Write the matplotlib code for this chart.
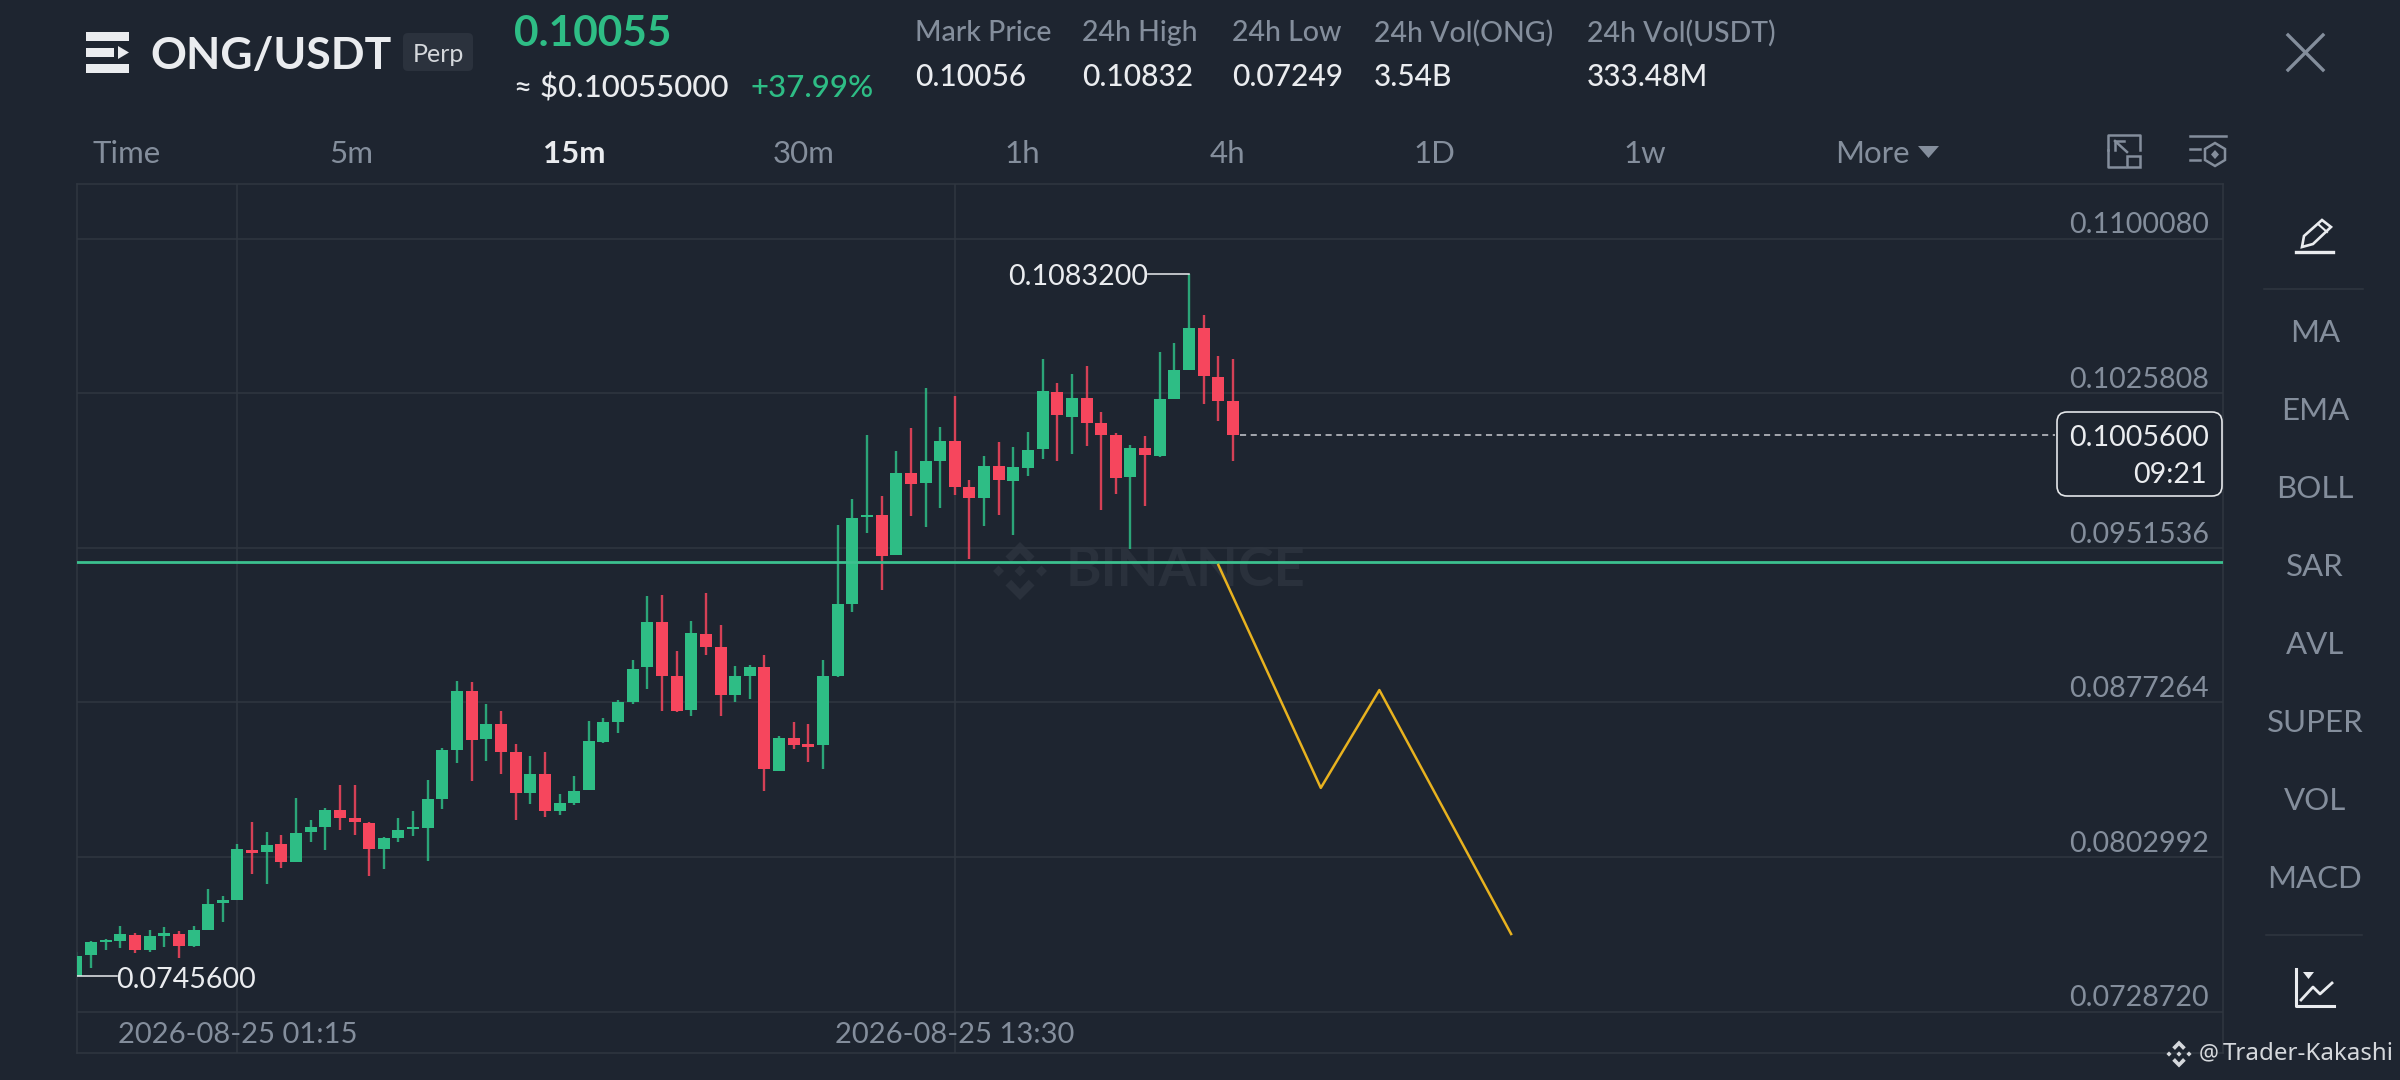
import matplotlib
matplotlib.use('Agg')
import matplotlib.pyplot as plt
from matplotlib.patches import FancyBboxPatch, Polygon, Rectangle
import numpy as np

plt.rcParams['font.family'] = ['Lato', 'DejaVu Sans']

# candles, 15m
opens = [0.07460, 0.07561, 0.07624, 0.07628, 0.07656, 0.07585, 0.07652, 0.07659, 0.07601, 0.07678,
         0.07809, 0.07822, 0.08066, 0.08053, 0.08093, 0.08005, 0.08149, 0.08176, 0.08255, 0.08216,
         0.08194, 0.08069, 0.08123, 0.08165, 0.08168, 0.08309, 0.08546, 0.08826, 0.08597, 0.08671,
         0.08536, 0.08339, 0.08431, 0.08251, 0.08290, 0.08351, 0.08584, 0.08679, 0.08773, 0.08942,
         0.09158, 0.08898, 0.08735, 0.09103, 0.09039, 0.08807, 0.08898, 0.08942, 0.08445, 0.08604,
         0.08573, 0.08568, 0.08898, 0.09246, 0.09662, 0.09672, 0.09480, 0.09875, 0.09825, 0.09933,
         0.10029, 0.09808, 0.09753, 0.09906, 0.09838, 0.09901, 0.09990, 0.10266, 0.10144, 0.10237,
         0.10115, 0.10056, 0.09856, 0.09995, 0.09955, 0.10232, 0.10370, 0.10573, 0.10336, 0.10221]
closes = [0.07556, 0.07620, 0.07630, 0.07659, 0.07585, 0.07652, 0.07665, 0.07601, 0.07678, 0.07803,
          0.07822, 0.08069, 0.08050, 0.08090, 0.08006, 0.08147, 0.08175, 0.08258, 0.08216, 0.08197,
          0.08069, 0.08120, 0.08162, 0.08176, 0.08307, 0.08543, 0.08826, 0.08594, 0.08671, 0.08536,
          0.08339, 0.08431, 0.08251, 0.08290, 0.08349, 0.08586, 0.08679, 0.08773, 0.08935, 0.09158,
          0.08901, 0.08733, 0.09106, 0.09039, 0.08807, 0.08898, 0.08943, 0.08453, 0.08604, 0.08570,
          0.08560, 0.08898, 0.09244, 0.09659, 0.09672, 0.09475, 0.09874, 0.09822, 0.09930, 0.10027,
          0.09808, 0.09755, 0.09910, 0.09840, 0.09902, 0.09987, 0.10271, 0.10151, 0.10237, 0.10114,
          0.10056, 0.09853, 0.09995, 0.09960, 0.10232, 0.10368, 0.10573, 0.10341, 0.10223, 0.10056]
highs = [0.07572, 0.07625, 0.07636, 0.07700, 0.07665, 0.07681, 0.07694, 0.07673, 0.07697, 0.07877,
         0.07841, 0.08094, 0.08197, 0.08152, 0.08136, 0.08314, 0.08207, 0.08266, 0.08376, 0.08375,
         0.08197, 0.08126, 0.08215, 0.08250, 0.08402, 0.08556, 0.08877, 0.08869, 0.08765, 0.08732,
         0.08575, 0.08517, 0.08535, 0.08335, 0.08418, 0.08682, 0.08698, 0.08786, 0.08974, 0.09283,
         0.09291, 0.09018, 0.09166, 0.09299, 0.09146, 0.08946, 0.08953, 0.08999, 0.08613, 0.08679,
         0.08669, 0.08978, 0.09624, 0.09750, 0.10056, 0.09766, 0.09979, 0.10090, 0.10283, 0.10094,
         0.10245, 0.09843, 0.09955, 0.10022, 0.09998, 0.10072, 0.10420, 0.10307, 0.10351, 0.10391,
         0.10170, 0.10067, 0.10011, 0.10054, 0.10458, 0.10500, 0.10832, 0.10633, 0.10439, 0.10424]
lows = [0.07456, 0.07497, 0.07582, 0.07593, 0.07569, 0.07574, 0.07598, 0.07545, 0.07598, 0.07678,
        0.07717, 0.07822, 0.07946, 0.07902, 0.07978, 0.08005, 0.08101, 0.08066, 0.08158, 0.08136,
        0.07941, 0.07970, 0.08104, 0.08130, 0.08010, 0.08263, 0.08482, 0.08397, 0.08493, 0.08431,
        0.08210, 0.08287, 0.08223, 0.08234, 0.08279, 0.08351, 0.08578, 0.08626, 0.08765, 0.08837,
        0.08730, 0.08725, 0.08706, 0.09002, 0.08706, 0.08775, 0.08791, 0.08346, 0.08442, 0.08549,
        0.08487, 0.08455, 0.08893, 0.09207, 0.09587, 0.09311, 0.09480, 0.09670, 0.09614, 0.09707,
        0.09771, 0.09464, 0.09619, 0.09675, 0.09579, 0.09862, 0.09944, 0.09931, 0.09965, 0.10003,
        0.09699, 0.09776, 0.09510, 0.09715, 0.09950, 0.10232, 0.10370, 0.10208, 0.10125, 0.09931]

price_ticks = [0.1100080, 0.1025808, 0.0951536, 0.0877264, 0.0802992, 0.0728720]
time_tick_idx = [11, 60]
time_tick_labels = ['2026-08-25 01:15', '2026-08-25 13:30']

# hand drawn stuff on the chart
support_price = 0.09449
sketch_idx = [78, 85, 89, 98]
sketch_price = [0.09433, 0.08362, 0.08832, 0.07660]

last_price = 0.10056
max_price = 0.10832
min_price = 0.07456

# header
timeframes = ['Time', '5m', '15m', '30m', '1h', '4h', '1D', '1w', 'More']
stat_names = ['Mark Price', '24h High', '24h Low', '24h Vol(ONG)', '24h Vol(USDT)']
stat_values = ['0.10056', '0.10832', '0.07249', '3.54B', '333.48M']
indicators = ['MA', 'EMA', 'BOLL', 'SAR', 'AVL', 'SUPER', 'VOL', 'MACD']

BG = '#1e2530'
GRID = '#2f3640'
GREEN = '#2ebd85'
RED = '#f6465d'
GRAY = '#848e9c'
WHITE = '#eaecef'
W, H = 2400, 1080

fig = plt.figure(figsize=(W / 100, H / 100), dpi=100, facecolor=BG)

# pixel overlays, back one holds the watermark so candles stay on top of it
back = fig.add_axes([0, 0, 1, 1], facecolor='none', zorder=0)
back.set_xlim(0, W)
back.set_ylim(H, 0)
back.axis('off')

# chart area, pixel box of the plot in the screenshot
left, right, top, bottom = 77, 2223, 184, 1053
ax = fig.add_axes([left / W, 1 - bottom / H, (right - left) / W, (bottom - top) / H], facecolor='none', zorder=1)


def y_to_price(y):
    return 0.110008 - (y - 238.6) * 4.804e-5


ax.set_ylim(y_to_price(bottom), y_to_price(top))
ax.set_xlim((left - 76.4) / 14.64, (right - 76.4) / 14.64)
ax.set_xticks([])
ax.set_yticks([])
for s in ax.spines.values():
    s.set_color(GRID)
    s.set_linewidth(1.1)

for p in price_ticks:
    ax.axhline(p, color=GRID, lw=1.1, zorder=1)
for i in time_tick_idx:
    ax.axvline(i, color=GRID, lw=1.1, zorder=1)

# candles
opens_a, closes_a = np.array(opens), np.array(closes)
idx = np.arange(len(opens))
colors = [GREEN if c >= o else RED for o, c in zip(opens, closes)]
ax.vlines(idx, lows, highs, colors=colors, lw=1.7, alpha=0.85, zorder=3)
ax.bar(idx, np.abs(closes_a - opens_a), bottom=np.minimum(opens_a, closes_a), width=0.82,
       color=colors, linewidth=0, zorder=4)

ax.axhline(support_price, color='#3cc08f', lw=2.0, zorder=5)
ax.plot(sketch_idx, sketch_price, color='#e8b21f', lw=1.8, zorder=5)

# last price dashed line
ax.plot([79.5, (2055 - 76.4) / 14.64], [last_price, last_price], color='#c9ccd1', lw=1.1,
        ls=(0, (4, 3)), zorder=3)

# max / min markers
ax.plot([76, 73.2, 73.2], [highs[76], max_price, max_price], color=WHITE, lw=1.1, zorder=5)
ax.plot([0, 2.8], [min_price, min_price], color=WHITE, lw=1.1, zorder=5)
ax.annotate(f'{max_price:.7f}', (73.2, max_price), xytext=(0, -2), textcoords='offset points',
            ha='right', va='center', color=WHITE, fontsize=20.6, zorder=6)
ax.annotate(f'{min_price:.7f}', (2.8, min_price), xytext=(-1, -2.5), textcoords='offset points',
            ha='left', va='center', color=WHITE, fontsize=20.6, zorder=6)

# price labels sit just above their grid line
for p in price_ticks:
    ax.annotate(f'{p:.7f}', (1, p), xycoords=('axes fraction', 'data'), xytext=(-10, 9.5),
                textcoords='offset points', ha='right', va='center', color=GRAY, fontsize=20.6)

for i, lab in zip(time_tick_idx, time_tick_labels):
    ax.annotate(lab, (i, 0), xycoords=('data', 'axes fraction'), xytext=(0, 13),
                textcoords='offset points', ha='center', va='center', color=GRAY, fontsize=21)

# everything else is placed on a pixel overlay
ui = fig.add_axes([0, 0, 1, 1], facecolor='none', zorder=2)
ui.set_xlim(0, W)
ui.set_ylim(H, 0)
ui.axis('off')


def logo(target, cx, cy, s, color, zorder=2):
    # the binance diamond
    d = s * 0.19
    for dx, dy in [(0, 0), (-s * 0.74, 0), (s * 0.74, 0)]:
        target.add_patch(Polygon([(cx + dx - d, cy + dy), (cx + dx, cy + dy - d), (cx + dx + d, cy + dy),
                                  (cx + dx, cy + dy + d)], color=color, lw=0, zorder=zorder))
    for sign in (-1, 1):
        target.add_patch(Polygon([(cx - s * 0.5, cy + sign * s * 0.5), (cx, cy + sign * s),
                                  (cx + s * 0.5, cy + sign * s * 0.5), (cx + s * 0.3, cy + sign * s * 0.3),
                                  (cx, cy + sign * s * 0.62), (cx - s * 0.3, cy + sign * s * 0.3)],
                                 color=color, lw=0, zorder=zorder))


# watermark
logo(back, 1020, 571, 29, '#2a313c')
back.text(1186, 571, 'BINANCE', color='#2a313c', fontsize=39, fontweight='bold', ha='center', va='center')

# title row
for y0, h0 in [(32, 9), (48, 9), (64, 9)]:
    w0 = 43 if y0 != 48 else 28
    ui.add_patch(Rectangle((86, y0), w0, h0, color=WHITE, lw=0))
ui.add_patch(Polygon([(118, 46), (129, 52.5), (118, 59)], color=WHITE, lw=0))
ui.text(150, 56, 'ONG/USDT', color=WHITE, fontsize=32, fontweight='bold', va='center')
ui.add_patch(FancyBboxPatch((407, 37), 62, 30, boxstyle='round,pad=4,rounding_size=5', color='#2b323d', lw=0))
ui.text(438, 55, 'Perp', color='#d5d8dc', fontsize=18, ha='center', va='center')
ui.text(514, 34, '0.10055', color=GREEN, fontsize=30.5, fontweight='bold', va='center')
ui.text(514, 88, '≈ $0.10055000', color=WHITE, fontsize=22.5, fontweight='medium', va='center')
ui.text(750, 88, '+37.99%', color=GREEN, fontsize=22.5, fontweight='medium', va='center')

stat_x = [915, 1082, 1232, 1374, 1587]
for x, n, v in zip(stat_x, stat_names, stat_values):
    ui.text(x, 33, n, color=GRAY, fontsize=20.5, fontweight='medium', va='center')
    ui.text(x, 77, v, color=WHITE, fontsize=21.5, fontweight='medium', va='center')

tf_x = [127, 351, 574, 804, 1022, 1227, 1434, 1645, 1872]
for x, t in zip(tf_x, timeframes):
    if t == '15m':
        ui.text(x, 154, t, color=WHITE, fontsize=22.5, fontweight='bold', ha='center', va='center')
    else:
        ui.text(x, 154, t, color=GRAY, fontsize=22.5, ha='center', va='center')
ui.add_patch(Polygon([(1918, 146), (1939, 146), (1928.5, 158)], color=GRAY, lw=0))

# close button
ui.plot([2288, 2323], [35, 70], color=GRAY, lw=2.4)
ui.plot([2288, 2323], [70, 35], color=GRAY, lw=2.4)

# layout / settings icons
ui.plot([2108, 2108, 2140, 2140], [150, 135, 135, 150], color=GRAY, lw=1.8)
ui.plot([2108, 2108, 2125], [150, 167, 167], color=GRAY, lw=1.8)
ui.add_patch(Rectangle((2127, 156), 13, 11, fill=False, ec=GRAY, lw=1.8))
ui.plot([2115, 2127], [141, 152], color=GRAY, lw=1.8)
ui.plot([2115, 2115, 2124], [150, 141, 141], color=GRAY, lw=1.8)
ui.plot([2190, 2226], [136, 136], color=GRAY, lw=1.8)
ui.plot([2190, 2200], [149, 149], color=GRAY, lw=1.8)
ui.plot([2190, 2200], [160, 160], color=GRAY, lw=1.8)
ui.add_patch(Polygon([(2215, 143), (2225, 149), (2225, 160), (2215, 166), (2205, 160), (2205, 149)],
                     fill=False, ec=GRAY, lw=1.8))
ui.add_patch(Polygon([(2215, 150), (2219, 154.5), (2215, 159), (2211, 154.5)], color=GRAY, lw=0))

# current price box
ui.add_patch(FancyBboxPatch((2063, 418), 153, 72, boxstyle='round,pad=6,rounding_size=10',
                            fc=BG, ec='#e4e6e9', lw=1.2, zorder=6))
ui.text(2209, 438, f'{last_price:.7f}', color=WHITE, fontsize=20.6, ha='right', va='center', zorder=7)
ui.text(2207, 475, '09:21', color=WHITE, fontsize=20.6, ha='right', va='center', zorder=7)

# right side tool bar
ui.plot([2296, 2333], [252, 252], color=WHITE, lw=2.4)
ui.add_patch(Polygon([(2302, 247), (2304, 236), (2322, 220), (2331, 227), (2313, 244)], fill=False,
                     ec=WHITE, lw=1.9))
ui.plot([2318, 2327], [224, 232], color=WHITE, lw=1.5)
ui.plot([2264, 2363], [289, 289], color=GRID, lw=1.1)
ind_y = [333, 411, 489, 567, 645, 723, 801, 879]
for y, t in zip(ind_y, indicators):
    ui.text(2315, y, t, color=GRAY, fontsize=22.5, ha='center', va='center')
ui.plot([2266, 2362], [935, 935], color=GRID, lw=1.1)
ui.plot([2296, 2296, 2334], [969, 1006, 1006], color=WHITE, lw=2.2)
ui.plot([2301, 2313, 2320, 2332], [1000, 987, 994, 983], color=WHITE, lw=2.0)
ui.add_patch(Polygon([(2303, 972), (2314, 972), (2308.5, 979)], color=WHITE, lw=0))

# author stamp bottom right
logo(ui, 2179, 1054, 13.5, '#d5d8dc')
ui.text(2199, 1054, '@', color='#d5d8dc', fontsize=16, va='center', family=['Noto Sans', 'DejaVu Sans'])
ui.text(2223, 1054, 'Trader-Kakashi', color='#d5d8dc', fontsize=17.3, va='center', family=['Noto Sans', 'DejaVu Sans'])

fig.savefig('out.png', dpi=100, facecolor=BG)
